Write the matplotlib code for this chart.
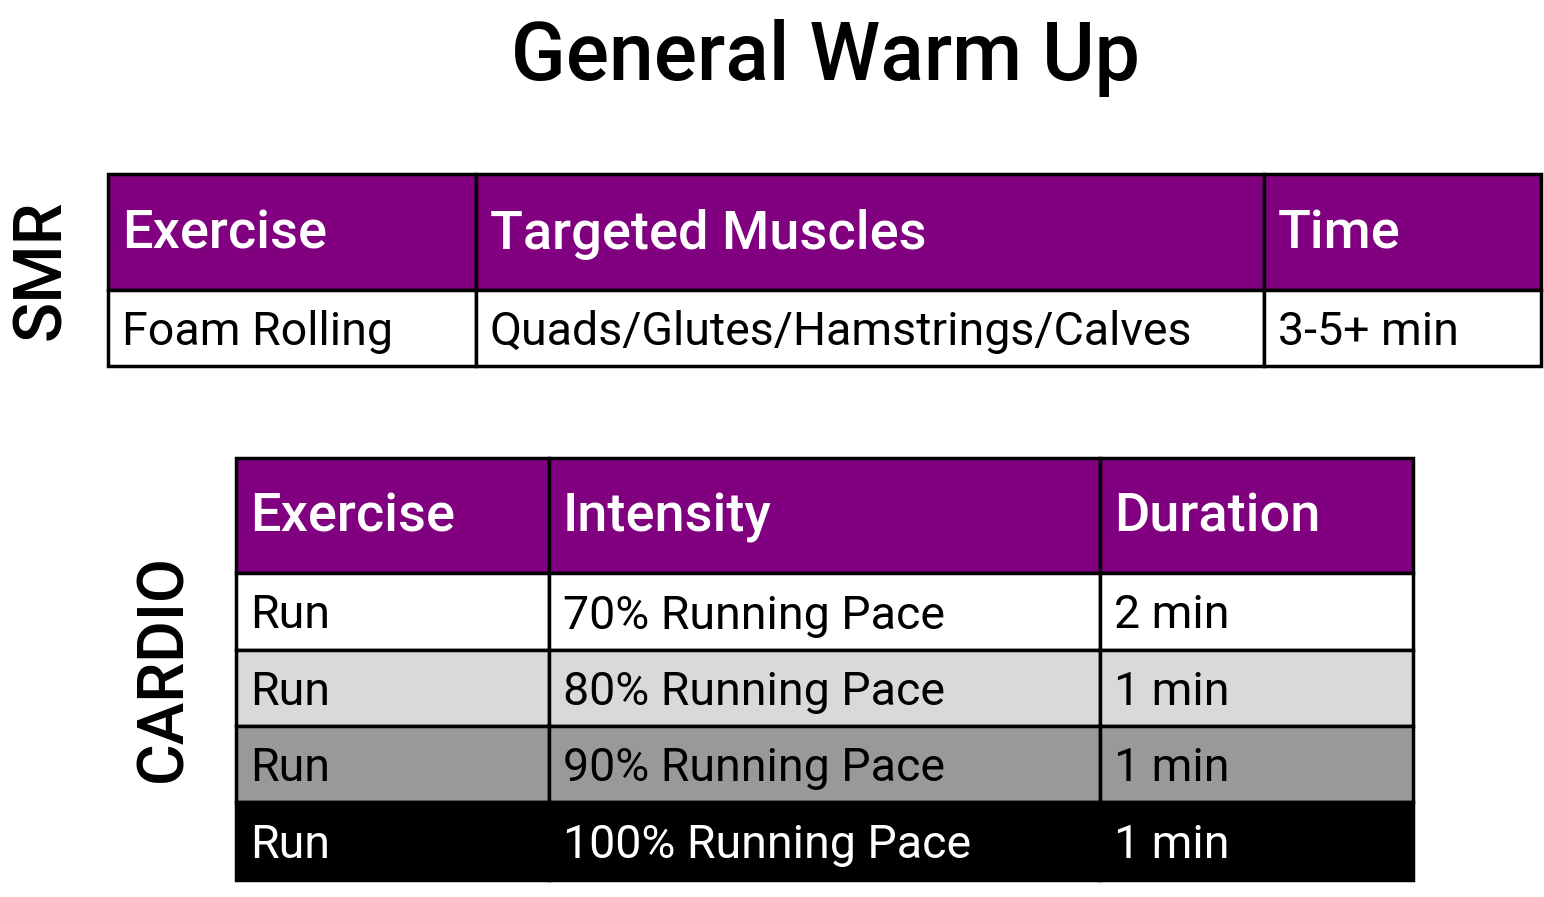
import matplotlib
matplotlib.use("Agg")
import matplotlib.pyplot as plt
from matplotlib.patches import Rectangle

title = "General Warm Up"
smr_header = ["Exercise", "Targeted Muscles", "Time"]
smr_rows = [["Foam Rolling", "Quads/Glutes/Hamstrings/Calves", "3-5+ min"]]
cardio_header = ["Exercise", "Intensity", "Duration"]
cardio_rows = [["Run", "70% Running Pace", "2 min"],
               ["Run", "80% Running Pace", "1 min"],
               ["Run", "90% Running Pace", "1 min"],
               ["Run", "100% Running Pace", "1 min"]]
cardio_fill = ["#ffffff", "#d9d9d9", "#999999", "#000000"]

NARROW = ["Roboto", "DejaVu Sans"]
BODY = ["Roboto", "DejaVu Sans"]
PURPLE = "#800080"

fig = plt.figure(figsize=(15.44, 8.97), dpi=100)
ax = fig.add_axes([0, 0, 1, 1])
ax.set_xlim(0, 1544); ax.set_ylim(897, 0); ax.axis("off")

ax.text(825, 58, title, ha="center", va="center", fontsize=58, family=NARROW, fontweight="medium")

def table(cols, rows_y, header, rows, fills):
    for i in range(3):
        ax.add_patch(Rectangle((cols[i], rows_y[0]), cols[i+1]-cols[i], rows_y[1]-rows_y[0],
                               facecolor=PURPLE, edgecolor="black", lw=2.5))
        ax.text(cols[i]+14, (rows_y[0]+rows_y[1])/2+2, header[i], ha="left", va="center",
                fontsize=39, color="white", family=NARROW, fontweight="medium")
    for r, row in enumerate(rows):
        y0, y1 = rows_y[r+1], rows_y[r+2]
        fc = fills[r]
        tc = "white" if fc == "#000000" else "black"
        for i in range(3):
            ax.add_patch(Rectangle((cols[i], y0), cols[i+1]-cols[i], y1-y0,
                                   facecolor=fc, edgecolor="black", lw=2.5))
            ax.text(cols[i]+14, (y0+y1)/2+4, row[i], ha="left", va="center",
                    fontsize=33.5, color=tc, family=BODY)

table([108, 476, 1264, 1541], [174, 290, 366], smr_header, smr_rows, ["#ffffff"])
table([236, 549, 1100, 1413], [458, 573, 650, 726, 802, 880], cardio_header, cardio_rows, cardio_fill)

ax.text(42, 270, "SMR", rotation=90, ha="center", va="center", fontsize=48, family=NARROW, fontweight="medium")
ax.text(163, 668, "CARDIO", rotation=90, ha="center", va="center", fontsize=46, family=NARROW, fontweight="medium")

fig.savefig("out.png", dpi=100)
